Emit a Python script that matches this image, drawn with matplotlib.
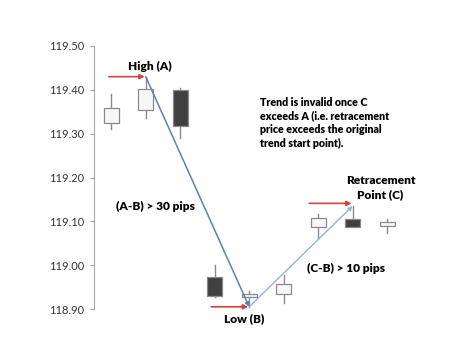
import matplotlib
matplotlib.use("Agg")
import matplotlib.pyplot as plt
from matplotlib.patches import Rectangle

# ---- data ----
opens  = [119.324, 119.355, 119.400, 118.972, 118.928, 118.934, 119.088, 119.105, 119.090]
closes = [119.358, 119.403, 119.318, 118.930, 118.934, 118.958, 119.107, 119.088, 119.098]
highs  = [119.390, 119.430, 119.405, 119.000, 118.942, 118.977, 119.116, 119.135, 119.105]
lows   = [119.310, 119.335, 119.290, 118.927, 118.905, 118.913, 119.063, 119.088, 119.073]
yticks = [118.90, 119.00, 119.10, 119.20, 119.30, 119.40, 119.50]
idx_A, idx_B, idx_C = 1, 4, 7

plt.rcParams['font.family'] = ['Lato', 'DejaVu Sans']

fig = plt.figure(figsize=(4.74, 3.55), dpi=100)
ax = fig.add_axes([94/474, 1-309/355, 330/474, (309-46)/355])
ax.set_xlim(-0.5, 9.07)
ax.set_ylim(118.90, 119.50)

edge = '#8a8a8a'
w = 0.43
for i, (o, c, h, l) in enumerate(zip(opens, closes, highs, lows)):
    lo_b, hi_b = min(o, c), max(o, c)
    ax.plot([i, i], [l, lo_b], color=edge, lw=1.0, zorder=2)
    ax.plot([i, i], [hi_b, h], color=edge, lw=1.0, zorder=2)
    fc = '#f7f7f7' if c >= o else '#404040'
    ax.add_patch(Rectangle((i - w/2, lo_b), w, hi_b - lo_b, facecolor=fc,
                           edgecolor=edge, lw=0.9, zorder=3))

A = (idx_A, highs[idx_A]); B = (idx_B, lows[idx_B]); C = (idx_C, highs[idx_C])
ax.annotate('', xy=B, xytext=A,
            arrowprops=dict(arrowstyle='-|>', color='#5b82b5', lw=1.1,
                            mutation_scale=6, shrinkA=0, shrinkB=0), zorder=4)
ax.annotate('', xy=C, xytext=B,
            arrowprops=dict(arrowstyle='-|>', color='#93b3da', lw=1.0,
                            mutation_scale=6, shrinkA=0, shrinkB=0), zorder=4)

red = '#d8403f'
for x0, p in [(-0.07, A), (2.9, B), (5.74, (C[0], C[1] + 0.006))]:
    ax.annotate('', xy=(p[0] - 0.03, p[1]), xytext=(x0, p[1]),
                arrowprops=dict(arrowstyle='-|>', color=red, lw=1.2,
                                mutation_scale=7, shrinkA=0, shrinkB=0), zorder=5)

fs = 8.6
ax.text(1.12, 119.453, 'High (A)', ha='center', va='center', fontsize=fs, fontweight='heavy')
ax.text(1.28, 119.133, '(A-B) > 30 pips', ha='center', va='center', fontsize=fs, fontweight='heavy')
ax.text(3.86, 118.878, 'Low (B)', ha='center', va='center', fontsize=fs, fontweight='heavy', clip_on=False)
ax.text(6.80, 118.993, '(C-B) > 10 pips', ha='center', va='center', fontsize=fs, fontweight='heavy')
ax.text(7.81, 119.177, 'Retracement\nPoint (C)', ha='center', va='center', fontsize=fs,
        fontweight='heavy', linespacing=1.25)
ax.text(4.30, 119.325, 'Trend is invalid once C\nexceeds A (i.e. retracement\nprice exceeds the original\ntrend start point).',
        ha='left', va='center', fontsize=7.7, fontweight='heavy', linespacing=1.3)

for s in ['top', 'right', 'bottom']:
    ax.spines[s].set_visible(False)
ax.spines['left'].set_color('#a6a6a6')
ax.set_yticks(yticks)
ax.set_yticklabels([f'{v:.2f}' for v in yticks])
ax.tick_params(axis='y', direction='out', length=3, color='#a6a6a6', labelsize=8, labelcolor='#333333', pad=4)
ax.set_xticks([])

fig.savefig('out.png', dpi=100)
